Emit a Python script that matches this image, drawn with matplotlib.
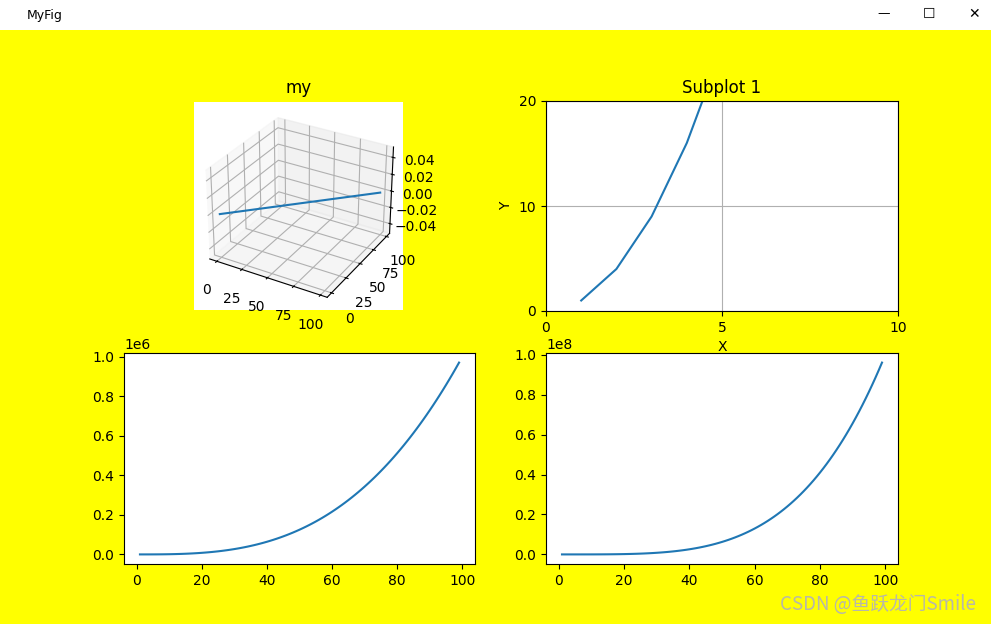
import numpy as np
import matplotlib
matplotlib.use('Agg')
import matplotlib.pyplot as plt
from matplotlib.patches import Rectangle

plt.rcParams['font.family'] = ['DejaVu Sans', 'Noto Sans CJK SC']

# data
x3d = list(range(100))
y3d = list(range(100))
z3d = [0] * 100
sq_x = [1, 2, 3, 4, 5, 6]
sq_y = [1, 4, 9, 16, 25, 36]
n = np.arange(1, 100)
cube = n ** 3
quart = n ** 4

W, H = 991, 624
fig = plt.figure(figsize=(W / 100, H / 100), dpi=100, facecolor='yellow')

# window title bar
fig.patches.append(Rectangle((0, 1 - 30 / H), 1, 30 / H, transform=fig.transFigure,
                             facecolor='white', edgecolor='none', zorder=0))
fig.text(27 / W, 1 - 15 / H, 'MyFig', fontsize=9, va='center')
fig.text(884 / W, 1 - 14 / H, '—', fontsize=9, va='center', ha='center')
fig.text(929 / W, 1 - 14 / H, '☐', fontsize=10, va='center', ha='center')
fig.text(974 / W, 1 - 14 / H, '✕', fontsize=10, va='center', ha='center')

def ax_rect(x0, y0, x1, y1):
    return [x0 / W, 1 - y1 / H, (x1 - x0) / W, (y1 - y0) / H]

# 3D
ax1 = fig.add_axes(ax_rect(194, 101, 403, 311), projection='3d')
ax1.plot(x3d, y3d, z3d)
ax1.set_title('my')
ax1.set_xticks([0, 25, 50, 75, 100])
ax1.set_yticks([0, 25, 50, 75, 100])

# squares
ax2 = fig.add_axes(ax_rect(546, 101, 898, 311))
ax2.plot(sq_x, sq_y)
ax2.set_xlim(0, 10)
ax2.set_ylim(0, 20)
ax2.set_xticks([0, 5, 10])
ax2.set_yticks([0, 10, 20])
ax2.grid(True)
ax2.set_xlabel('X')
ax2.set_ylabel('Y')
ax2.set_title('Subplot 1')

ax3 = fig.add_axes(ax_rect(124, 353, 475, 564))
ax3.plot(n, cube)

ax4 = fig.add_axes(ax_rect(546, 353, 898, 564))
ax4.plot(n, quart)

fig.text(976 / W, 1 - 605 / H, 'CSDN @鱼跃龙门Smile', fontsize=13.5, color='#b8b8a8',
         ha='right', va='center', family=['Noto Sans CJK SC', 'DejaVu Sans'])

fig.savefig('out.png', dpi=100, facecolor=fig.get_facecolor())
